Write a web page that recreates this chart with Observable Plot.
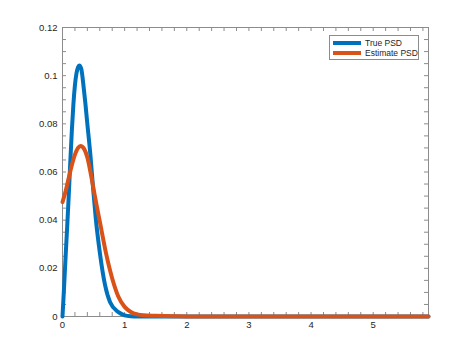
<!DOCTYPE html>
<html>
<head>
<meta charset="utf-8">
<script src="https://cdn.jsdelivr.net/npm/d3@7"></script>
<script src="https://cdn.jsdelivr.net/npm/@observablehq/plot@0.6"></script>
<style>
  html, body { margin: 0; padding: 0; background: #fff; }
  #wrap { position: relative; width: 474px; height: 355px; }
  #legend {
    position: absolute; left: 329px; top: 35px; width: 90px; height: 25px;
    box-sizing: border-box; border: 1px solid #8c8c8c; background: #fff;
    font-family: "Liberation Sans", Arial, sans-serif; font-size: 8.5px; color: #262626;
    padding-top: 2px;
  }
  .row { display: flex; align-items: center; height: 10px; margin-left: 3px; }
  .sw { width: 28px; height: 4px; margin-right: 4px; }
</style>
</head>
<body>
<div id="wrap"></div>
<script>
// True PSD (blue)
const trueX = [0, 0.025, 0.05, 0.075, 0.1, 0.125, 0.15, 0.175, 0.2, 0.225, 0.25, 0.27, 0.3, 0.343, 0.37, 0.397, 0.45, 0.493, 0.536, 0.6, 0.686, 0.766, 0.9, 1.0, 1.1, 1.2, 2, 3, 4, 5, 5.89];
const trueY = [0, 0.012, 0.025, 0.037, 0.050, 0.064, 0.077, 0.088, 0.096, 0.101, 0.1035, 0.1042, 0.1030, 0.0946, 0.088, 0.0807, 0.0668, 0.053, 0.0406, 0.0267, 0.0129, 0.0059, 0.0018, 0.0005, 0.0001, 0, 0, 0, 0, 0, 0];
// Estimate PSD (orange)
const estX = [0, 0.05, 0.1, 0.15, 0.2, 0.25, 0.29, 0.35, 0.4, 0.45, 0.5, 0.55, 0.6, 0.7, 0.8, 0.9, 1.0, 1.1, 1.2, 1.3, 1.5, 1.8, 2.0, 3, 4, 5, 5.89];
const estY = [0.0475, 0.052, 0.0575, 0.0628, 0.0672, 0.0700, 0.0708, 0.0695, 0.0660, 0.0600, 0.0530, 0.0460, 0.0395, 0.0263, 0.0158, 0.0082, 0.0040, 0.0019, 0.0009, 0.0005, 0.0003, 0.0001, 0, 0, 0, 0, 0];

const xMajor = [0, 1, 2, 3, 4, 5];
const yMajor = [0, 0.02, 0.04, 0.06, 0.08, 0.1, 0.12];
const xMinor = d3.range(0, 5.81, 0.2);
const yMinor = d3.range(0, 0.1201, 0.005);

const trueData = trueX.map((x, i) => ({x, y: trueY[i]}));
const estData = estX.map((x, i) => ({x, y: estY[i]}));

const W = 474, H = 355, mL = 62, mR = 46, mT = 27, mB = 39;
const pW = W - mL - mR, pH = H - mT - mB;
const tk = 4;
const axisCol = "#8c8c8c";

const chart = Plot.plot({
  width: W, height: H,
  marginLeft: mL, marginRight: mR, marginTop: mT, marginBottom: mB,
  style: {fontFamily: "'Liberation Sans', Arial, sans-serif", fontSize: "9.5px", color: "#262626", background: "#fff"},
  x: {domain: [0, 5.89]},
  y: {domain: [0, 0.12]},
  marks: [
    Plot.tickX(xMinor, {x: d => d, insetTop: pH - tk, stroke: axisCol}),
    Plot.tickX(xMinor, {x: d => d, insetBottom: pH - tk, stroke: axisCol}),
    Plot.tickY(yMinor, {y: d => d, insetRight: pW - tk, stroke: axisCol}),
    Plot.tickY(yMinor, {y: d => d, insetLeft: pW - tk, stroke: axisCol}),
    Plot.frame({stroke: axisCol}),
    Plot.axisX(xMajor, {tickSize: 0, tickPadding: 5, label: null, fill: "#262626"}),
    Plot.axisY(yMajor, {tickSize: 0, tickPadding: 5, label: null, fill: "#262626",
      tickFormat: d => d === 0 ? "0" : String(+d.toFixed(2))}),
    Plot.line(trueData, {x: "x", y: "y", stroke: "#0072BD", strokeWidth: 4, curve: "monotone-x"}),
    Plot.line(estData, {x: "x", y: "y", stroke: "#D95319", strokeWidth: 4, curve: "monotone-x"})
  ]
});

const wrap = document.getElementById("wrap");
wrap.appendChild(chart);
const leg = document.createElement("div");
leg.id = "legend";
leg.innerHTML = `
  <div class="row"><div class="sw" style="background:#0072BD"></div><span>True PSD</span></div>
  <div class="row"><div class="sw" style="background:#D95319"></div><span>Estimate PSD</span></div>`;
wrap.appendChild(leg);
</script>
</body>
</html>
